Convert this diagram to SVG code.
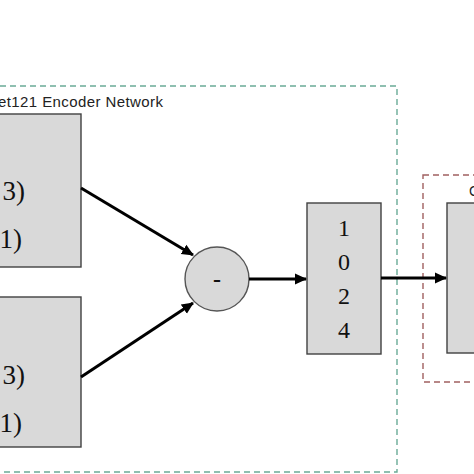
<svg xmlns="http://www.w3.org/2000/svg" width="474" height="474" viewBox="0 0 474 474">
<style>
.box{fill:#d9d9d9;stroke:#404040;stroke-width:1.4}
.ser{font-family:"Liberation Serif","DejaVu Serif",serif;fill:#111}
.conn{stroke:#000;stroke-width:3;fill:none}
</style>
<defs>
<marker id="ah" markerWidth="14" markerHeight="14" refX="11" refY="6.5" orient="auto" markerUnits="userSpaceOnUse">
<path d="M0,1 L12,6.5 L0,12 Z" fill="#000"/>
</marker>
</defs>
<rect width="474" height="474" fill="#fff"/>
<g id="encoder-group">
<rect x="-10" y="86" width="407" height="386" fill="none" stroke="#6aab97" stroke-width="1.4" stroke-dasharray="6,4"/>
<text x="-2" y="107" font-family="Liberation Sans, Arial, sans-serif" font-size="15" textLength="165" fill="#222">et121 Encoder Network</text>
</g>
<g id="classifier-group">
<rect x="423" y="175" width="80" height="207" fill="none" stroke="#a06060" stroke-width="1.4" stroke-dasharray="6,4"/>
<text x="469" y="196" font-family="Liberation Sans, Arial, sans-serif" font-size="14" fill="#222">C</text>
</g>
<g id="input-top">
<rect class="box" x="-5" y="114" width="86" height="153"/>
<text class="ser" x="25" y="200" font-size="27" text-anchor="end">3)</text>
<text class="ser" x="22" y="248" font-size="27" text-anchor="end">1)</text>
</g>
<g id="input-bottom">
<rect class="box" x="-5" y="297" width="86" height="150"/>
<text class="ser" x="25" y="384" font-size="27" text-anchor="end">3)</text>
<text class="ser" x="22" y="432" font-size="27" text-anchor="end">1)</text>
</g>
<g id="subtract">
<circle cx="217" cy="279" r="32" fill="#d9d9d9" stroke="#555" stroke-width="1.4"/>
<text class="ser" x="217" y="287" font-size="24" font-weight="bold" text-anchor="middle">-</text>
</g>
<g id="vector">
<rect class="box" x="307" y="203" width="74" height="151"/>
<text class="ser" x="344" y="236" font-size="24" text-anchor="middle">1</text>
<text class="ser" x="344" y="270" font-size="24" text-anchor="middle">0</text>
<text class="ser" x="344" y="304" font-size="24" text-anchor="middle">2</text>
<text class="ser" x="344" y="338" font-size="24" text-anchor="middle">4</text>
</g>
<g id="classifier">
<rect class="box" x="447" y="203" width="40" height="150"/>
</g>
<g id="connectors">
<line class="conn" x1="81" y1="188" x2="193" y2="255" marker-end="url(#ah)"/>
<line class="conn" x1="81" y1="377" x2="193" y2="303" marker-end="url(#ah)"/>
<line class="conn" x1="249" y1="279" x2="306" y2="279" marker-end="url(#ah)"/>
<line class="conn" x1="381" y1="278" x2="446" y2="278" marker-end="url(#ah)"/>
</g>
</svg>
